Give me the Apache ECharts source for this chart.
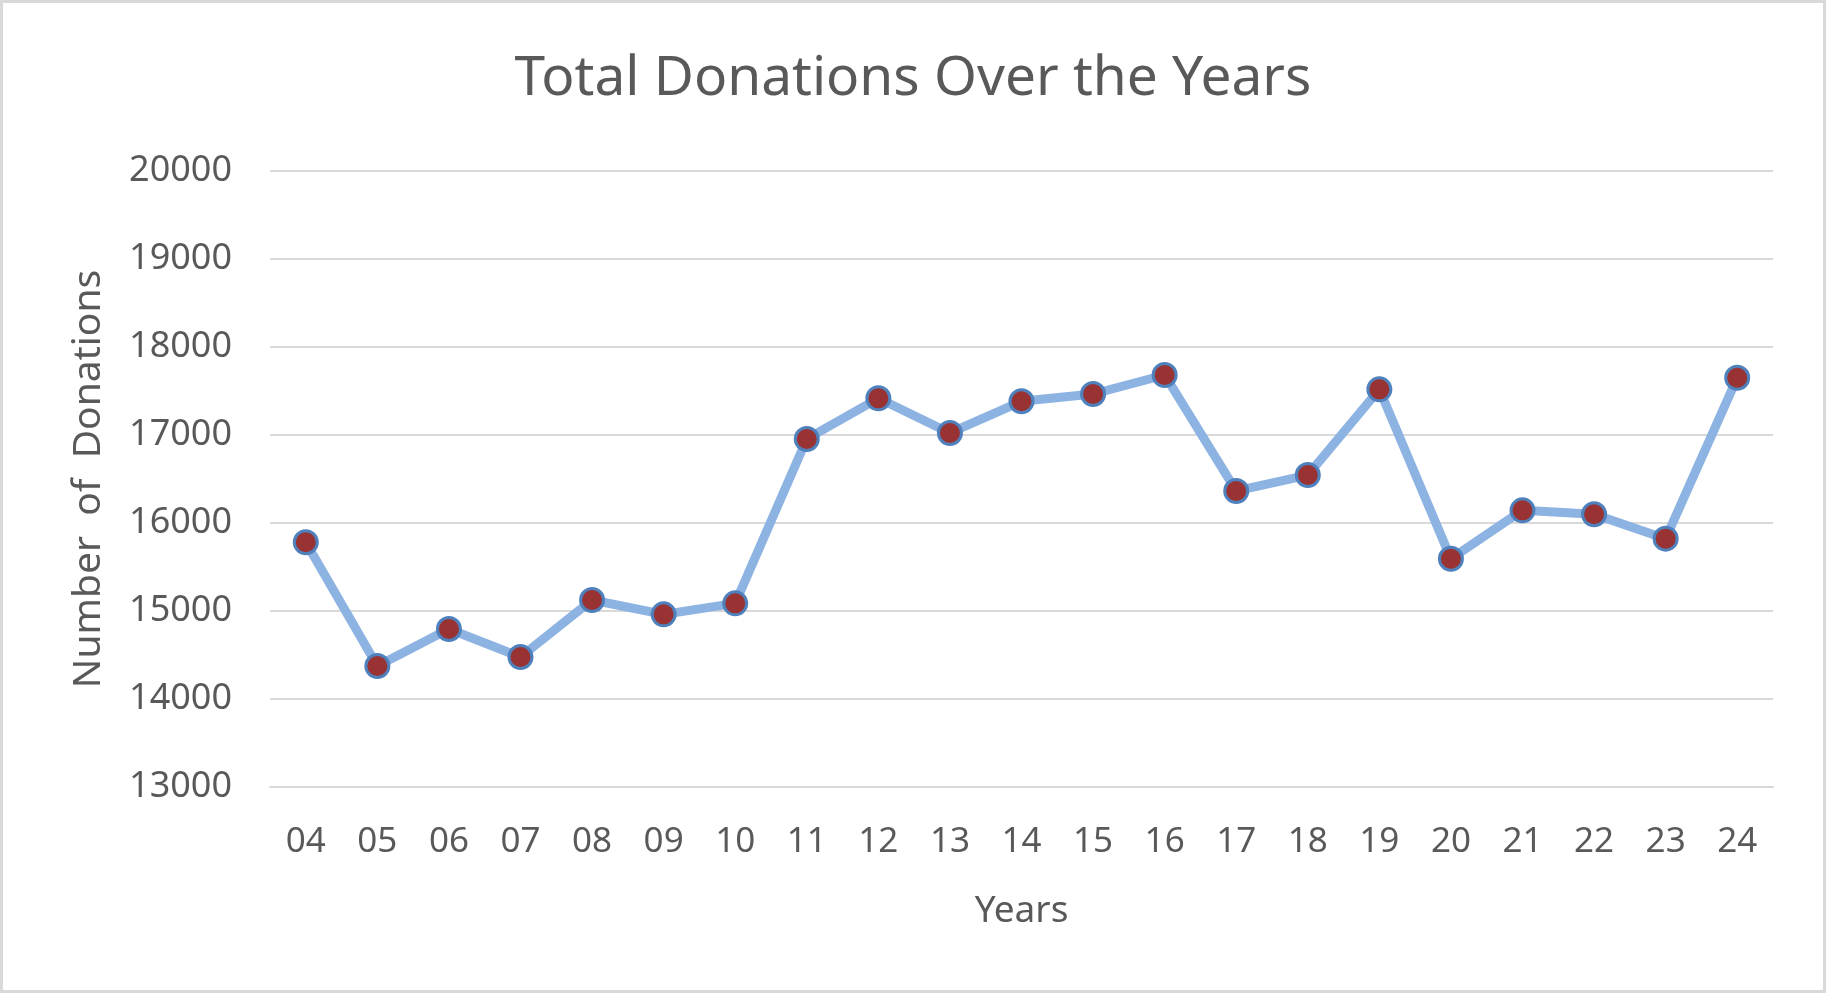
<!DOCTYPE html>
<html>
<head>
<meta charset="utf-8">
<style>
    html, body { margin: 0; padding: 0; background: #fff; }
    #donationsChart {
        width: 1826px;
        height: 993px;
        box-sizing: border-box;
        border: 3px solid #d9d9d9;
    }
</style>
<script src="https://cdn.jsdelivr.net/npm/echarts@6/dist/echarts.min.js"></script>
</head>
<body>
<div id="donationsChart"></div>
<script>
    // data
    var years = ['04', '05', '06', '07', '08', '09', '10', '11', '12', '13', '14',
                 '15', '16', '17', '18', '19', '20', '21', '22', '23', '24'];
    var donations = [15781, 14375, 14795, 14477, 15125, 14962, 15087, 16955, 17417, 17023, 17383,
                     17466, 17682, 16364, 16545, 17519, 15594, 16144, 16099, 15822, 17650];

    var textColor = '#595959';
    var font = '"Noto Sans", "Open Sans", sans-serif';

    var chart = echarts.init(document.getElementById('donationsChart'));
    var option = {
        backgroundColor: '#fff',
        animation: false,
        title: {
            text: 'Total Donations Over the Years',
            left: 'center',
            top: 44,
            textStyle: {
                fontFamily: font,
                fontSize: 55,
                fontWeight: 'normal',
                color: textColor
            }
        },
        grid: {
            left: 267,
            right: 50,
            top: 168,
            bottom: 203
        },
        xAxis: {
            type: 'category',
            data: years,
            boundaryGap: true,
            name: 'Years',
            nameLocation: 'middle',
            nameGap: 106,
            nameTextStyle: { fontFamily: font, fontSize: 37, color: textColor },
            axisLine: { show: true, lineStyle: { color: '#d9d9d9', width: 2 } },
            axisTick: { show: false },
            axisLabel: { fontFamily: font, fontSize: 35, color: textColor, margin: 38 }
        },
        yAxis: {
            type: 'value',
            min: 13000,
            max: 20000,
            interval: 1000,
            name: 'Number  of  Donations',
            nameLocation: 'middle',
            nameGap: 162,
            nameTextStyle: { fontFamily: font, fontSize: 39, color: textColor },
            axisLine: { show: false },
            axisTick: { show: false },
            axisLabel: {
                fontFamily: font,
                fontSize: 36,
                color: textColor,
                margin: 38,
                formatter: function (v) { return String(v); }
            },
            splitLine: { lineStyle: { color: '#d9d9d9', width: 2 } }
        },
        series: [{
            name: 'Donations',
            type: 'line',
            data: donations,
            symbol: 'circle',
            symbolSize: 23,
            lineStyle: { color: '#8db3e2', width: 9 },
            itemStyle: { color: '#993333', borderColor: '#4f81bd', borderWidth: 3 }
        }]
    };
    chart.setOption(option);
</script>
</body>
</html>
